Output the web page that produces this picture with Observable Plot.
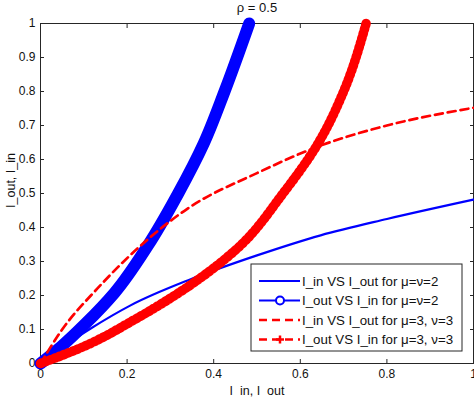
<!DOCTYPE html>
<html><head><meta charset="utf-8">
<script src="https://cdn.jsdelivr.net/npm/d3@7"></script>
<script src="https://cdn.jsdelivr.net/npm/@observablehq/plot@0.6"></script>
<style>
html,body{margin:0;padding:0;background:#fff;}
#chart{width:474px;height:397px;overflow:hidden;}
</style></head><body><div id="chart"></div>
<script>
// values
// mu = nu = 2 : I_in (y) against I_out (x)
const mu2X = [0, 0.05, 0.116, 0.208, 0.347, 0.5, 0.647, 0.8, 1];
const mu2Y = [0, 0.048, 0.103, 0.171, 0.248, 0.318, 0.377, 0.425, 0.482];
// mu = 3, nu = 3 : I_in (y) against I_out (x)
const mu3X = [0, 0.05, 0.131, 0.254, 0.339, 0.5, 0.647, 0.8, 1];
const mu3Y = [0, 0.10, 0.22, 0.372, 0.455, 0.56, 0.641, 0.70, 0.752];

const xTicks = [0, 0.2, 0.4, 0.6, 0.8, 1];
const xTickLabels = ["0", "0.2", "0.4", "0.6", "0.8", "1"];
const yTicks = [0, 0.1, 0.2, 0.3, 0.4, 0.5, 0.6, 0.7, 0.8, 0.9, 1];
const yTickLabels = ["0", "0.1", "0.2", "0.3", "0.4", "0.5", "0.6", "0.7", "0.8", "0.9", "1"];
const seriesNames = [
  "I_in VS I_out for \u03bc=\u03bd=2",
  "I_out VS I_in for \u03bc=\u03bd=2",
  "I_in VS I_out for \u03bc=3, \u03bd=3",
  "I_out VS I_in for \u03bc=3, \u03bd=3"
];
const titleText = "\u03c1 = 0.5";
const xLabel = "I_in, I_out";
const yLabel = "I_out, I_in";

const BLUE = "#0000ff", RED = "#ff0000";
const FONT = "'Liberation Sans', Arial, Helvetica, sans-serif";

const s1 = mu2X.map((x, i) => ({x, y: mu2Y[i]}));          // I_in vs I_out, mu=nu=2
const s2 = mu2X.map((x, i) => ({x: mu2Y[i], y: x}));       // I_out vs I_in, mu=nu=2
const s3 = mu3X.map((x, i) => ({x, y: mu3Y[i]}));          // I_in vs I_out, mu=3,nu=3
const s4 = mu3X.map((x, i) => ({x: mu3Y[i], y: x}));       // I_out vs I_in, mu=3,nu=3

const fmtX = d => xTickLabels[xTicks.indexOf(d)];
const fmtY = d => yTickLabels[yTicks.indexOf(d)];

const plot = Plot.plot({
  width: 474, height: 397,
  marginLeft: 40, marginRight: 1, marginTop: 23, marginBottom: 34,
  style: {fontFamily: FONT, fontSize: "12px", color: "#111", background: "white"},
  x: {domain: [0, 1]},
  y: {domain: [0, 1]},
  marks: [
    Plot.frame({stroke: "#262626", strokeWidth: 1}),
    Plot.axisX(xTicks, {anchor: "bottom", tickSize: 0, tickPadding: 6, tickFormat: fmtX, label: null, fontSize: 12}),
    Plot.axisX(xTicks, {anchor: "bottom", tickSize: -4, tickFormat: () => "", label: null, stroke: "#262626"}),
    Plot.axisX(xTicks, {anchor: "top", tickSize: -4, tickFormat: () => "", label: null, stroke: "#262626"}),
    Plot.axisY(yTicks, {anchor: "left", tickSize: 0, tickPadding: 5, tickFormat: fmtY, label: null, fontSize: 12}),
    Plot.axisY(yTicks, {anchor: "left", tickSize: -4, tickFormat: () => "", label: null, stroke: "#262626"}),
    Plot.axisY(yTicks, {anchor: "right", tickSize: -4, tickFormat: () => "", label: null, stroke: "#262626"}),
    Plot.line(s1, {x: "x", y: "y", stroke: BLUE, strokeWidth: 2.2, curve: "monotone-x"}),
    Plot.line(s2, {x: "x", y: "y", stroke: BLUE, strokeWidth: 12, curve: "monotone-y", strokeLinecap: "round"}),
    Plot.line(s3, {x: "x", y: "y", stroke: RED, strokeWidth: 2.7, strokeDasharray: "8,5", curve: "monotone-x"}),
    Plot.line(s4, {x: "x", y: "y", stroke: RED, strokeWidth: 3, curve: "monotone-y"}),
    Plot.line(s4, {x: "x", y: "y", stroke: RED, strokeWidth: 9.5, strokeDasharray: "2,2.8", curve: "monotone-y"}),
    Plot.text([titleText], {text: d => d, frameAnchor: "top", dy: -16, lineAnchor: "middle", textAnchor: "middle", fontSize: 13}),
    Plot.text([xLabel], {text: d => d, frameAnchor: "bottom", dy: 27.5, lineAnchor: "middle", textAnchor: "middle", fontSize: 12.5}),
    Plot.text([yLabel], {text: d => d, frameAnchor: "left", dx: -30, dy: -13, rotate: -90, lineAnchor: "middle", textAnchor: "middle", fontSize: 12.5})
  ]
});
document.getElementById("chart").appendChild(plot);

// legend (MATLAB style box inside the axes)
const svg = d3.select(plot);
const lg = svg.append("g").attr("font-family", FONT).attr("font-size", 13.3).attr("text-anchor", "start");
const box = {x: 251, y: 264, w: 211, h: 87};
lg.append("rect").attr("x", box.x).attr("y", box.y).attr("width", box.w).attr("height", box.h)
  .attr("fill", "white").attr("stroke", "#262626").attr("stroke-width", 1);
const styles = [
  {stroke: BLUE, width: 2.2, dash: null, marker: null},
  {stroke: BLUE, width: 2.2, dash: null, marker: "circle"},
  {stroke: RED, width: 2.7, dash: "8,5", marker: null},
  {stroke: RED, width: 2.7, dash: "8,5", marker: "plus"}
];
seriesNames.forEach((name, i) => {
  const cy = 281 + 19.5 * i;
  const st = styles[i];
  const ln = lg.append("line").attr("x1", 259).attr("x2", 300).attr("y1", cy).attr("y2", cy)
    .attr("stroke", st.stroke).attr("stroke-width", st.width);
  if (st.dash) ln.attr("stroke-dasharray", st.dash);
  if (st.marker === "circle") {
    lg.append("circle").attr("cx", 280).attr("cy", cy).attr("r", 4)
      .attr("fill", "white").attr("stroke", st.stroke).attr("stroke-width", 2);
  } else if (st.marker === "plus") {
    lg.append("path").attr("d", `M${280 - 4},${cy}H${280 + 4}M280,${cy - 4}V${cy + 4}`)
      .attr("stroke", st.stroke).attr("stroke-width", 2.5).attr("fill", "none");
  }
  lg.append("text").attr("x", 302).attr("y", cy).attr("dy", "0.35em")
    .attr("text-anchor", "start").attr("fill", "#111").text(name);
});
</script>
</body></html>
